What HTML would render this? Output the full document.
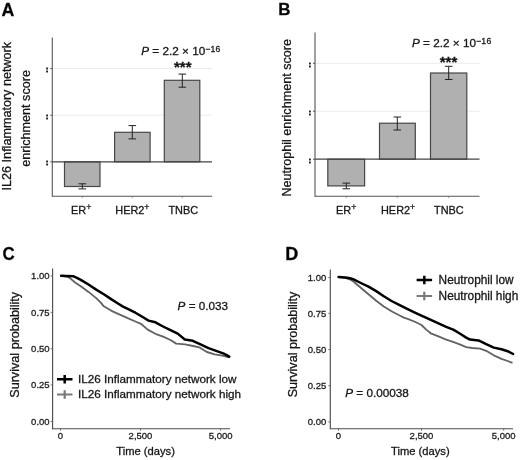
<!DOCTYPE html>
<html><head><meta charset="utf-8"><title>Figure</title>
<style>
html,body{margin:0;padding:0;background:#fff}
svg{display:block}
text{font-family:"Liberation Sans",Arial,Helvetica,sans-serif;stroke:#222;stroke-width:0.3px}
</style></head><body>
<svg width="520" height="460" viewBox="0 0 520 460">
<rect width="520" height="460" fill="#fff"/>
<!-- panel letters -->
<g font-weight="bold" font-size="17.8" fill="#000">
<text x="1.6" y="15.9">A</text>
<text x="278.2" y="15.3" font-size="16.9">B</text>
<text x="2.4" y="259.8" font-size="18" textLength="12.2" lengthAdjust="spacingAndGlyphs">C</text>
<text x="285.2" y="259.8" font-size="18">D</text>
</g>
<!-- panel A -->
<line x1="52.3" x2="212" y1="68.6" y2="68.6" stroke="#e6e6e6" stroke-width="0.8"/>
<line x1="52.3" x2="212" y1="115.2" y2="115.2" stroke="#e6e6e6" stroke-width="0.8"/>
<rect x="64.5" y="161.8" width="35.5" height="24.69999999999999" fill="#b0b0b0" stroke="#474747" stroke-width="1.2"/>
<path d="M82.3,183.8V188.9M78.5,183.8H86.1M78.5,188.9H86.1" stroke="#222" stroke-width="1" fill="none"/>
<line x1="82.3" x2="82.3" y1="196.3" y2="197.8" stroke="#555" stroke-width="0.7"/>
<rect x="114.6" y="132.3" width="35.5" height="29.5" fill="#b0b0b0" stroke="#474747" stroke-width="1.2"/>
<path d="M132.3,125.6V138.9M128.5,125.6H136.10000000000002M128.5,138.9H136.10000000000002" stroke="#222" stroke-width="1" fill="none"/>
<line x1="132.3" x2="132.3" y1="196.3" y2="197.8" stroke="#555" stroke-width="0.7"/>
<rect x="164.3" y="80.3" width="35.5" height="81.50000000000001" fill="#b0b0b0" stroke="#474747" stroke-width="1.2"/>
<path d="M182.3,74.1V87.2M178.5,74.1H186.10000000000002M178.5,87.2H186.10000000000002" stroke="#222" stroke-width="1" fill="none"/>
<line x1="182.3" x2="182.3" y1="196.3" y2="197.8" stroke="#555" stroke-width="0.7"/>
<line x1="52.3" x2="212" y1="161.8" y2="161.8" stroke="#444" stroke-width="1.25"/>
<line x1="52.3" x2="52.3" y1="37.5" y2="196.8" stroke="#555" stroke-width="1.1"/>
<line x1="52.3" x2="212" y1="196.3" y2="196.3" stroke="#555" stroke-width="1.1"/>
<text x="47.099999999999994" y="72.1" font-size="6.6" text-anchor="middle" fill="#222" style="stroke:#222;stroke-width:0.8px" font-weight="bold">:</text>
<line x1="50.3" x2="52.3" y1="68.6" y2="68.6" stroke="#444" stroke-width="0.9"/>
<text x="47.099999999999994" y="118.7" font-size="6.6" text-anchor="middle" fill="#222" style="stroke:#222;stroke-width:0.8px" font-weight="bold">:</text>
<line x1="50.3" x2="52.3" y1="115.2" y2="115.2" stroke="#444" stroke-width="0.9"/>
<text x="47.099999999999994" y="165.3" font-size="6.6" text-anchor="middle" fill="#222" style="stroke:#222;stroke-width:0.8px" font-weight="bold">:</text>
<line x1="50.3" x2="52.3" y1="161.8" y2="161.8" stroke="#444" stroke-width="0.9"/>
<g font-size="12.6" fill="#111" text-anchor="middle">
<text transform="translate(11,116.2) rotate(-90)">IL26 Inflammatory network</text>
<text transform="translate(30.2,118.4) rotate(-90)">enrichment score</text>
</g>
<text x="141.2" y="54.8" font-size="11.75" fill="#111"><tspan font-style="italic">P</tspan> = 2.2 × 10<tspan font-size="8.6" dy="-3.3" letter-spacing="0.3">−16</tspan></text>
<text x="182.8" y="72.4" font-size="15" font-weight="bold" text-anchor="middle" fill="#111">***</text>
<g font-size="10.9" fill="#111">
<text x="71" y="213.8">ER<tspan font-size="8.8" dy="-3.4">+</tspan></text>
<text x="115.3" y="213.8">HER2<tspan font-size="8.8" dy="-3.4">+</tspan></text>
<text x="168.4" y="213.8">TNBC</text>
</g>
<!-- panel B -->
<line x1="315" x2="479.5" y1="63.3" y2="63.3" stroke="#e6e6e6" stroke-width="0.8"/>
<line x1="315" x2="479.5" y1="111.2" y2="111.2" stroke="#e6e6e6" stroke-width="0.8"/>
<rect x="327.8" y="159.2" width="36.80000000000001" height="26.700000000000017" fill="#b0b0b0" stroke="#474747" stroke-width="1.2"/>
<path d="M346.3,183.1V188.8M342.5,183.1H350.1M342.5,188.8H350.1" stroke="#222" stroke-width="1" fill="none"/>
<line x1="346.3" x2="346.3" y1="196.3" y2="197.8" stroke="#555" stroke-width="0.7"/>
<rect x="379.5" y="123.2" width="35.80000000000001" height="35.999999999999986" fill="#b0b0b0" stroke="#474747" stroke-width="1.2"/>
<path d="M397.3,117V130M393.5,117H401.1M393.5,130H401.1" stroke="#222" stroke-width="1" fill="none"/>
<line x1="397.3" x2="397.3" y1="196.3" y2="197.8" stroke="#555" stroke-width="0.7"/>
<rect x="430.5" y="73" width="36.30000000000001" height="86.19999999999999" fill="#b0b0b0" stroke="#474747" stroke-width="1.2"/>
<path d="M448.7,66.3V79.5M444.9,66.3H452.5M444.9,79.5H452.5" stroke="#222" stroke-width="1" fill="none"/>
<line x1="448.7" x2="448.7" y1="196.3" y2="197.8" stroke="#555" stroke-width="0.7"/>
<line x1="315" x2="479.5" y1="159.2" y2="159.2" stroke="#444" stroke-width="1.25"/>
<line x1="315" x2="315" y1="32.5" y2="196.8" stroke="#555" stroke-width="1.1"/>
<line x1="315" x2="479.5" y1="196.3" y2="196.3" stroke="#555" stroke-width="1.1"/>
<text x="309.8" y="66.8" font-size="6.6" text-anchor="middle" fill="#222" style="stroke:#222;stroke-width:0.8px" font-weight="bold">:</text>
<line x1="313" x2="315" y1="63.3" y2="63.3" stroke="#444" stroke-width="0.9"/>
<text x="309.8" y="114.7" font-size="6.6" text-anchor="middle" fill="#222" style="stroke:#222;stroke-width:0.8px" font-weight="bold">:</text>
<line x1="313" x2="315" y1="111.2" y2="111.2" stroke="#444" stroke-width="0.9"/>
<text x="309.8" y="162.7" font-size="6.6" text-anchor="middle" fill="#222" style="stroke:#222;stroke-width:0.8px" font-weight="bold">:</text>
<line x1="313" x2="315" y1="159.2" y2="159.2" stroke="#444" stroke-width="0.9"/>
<text transform="translate(290.9,117.8) rotate(-90)" font-size="12.6" fill="#111" text-anchor="middle">Neutrophil enrichment score</text>
<text x="412" y="47.2" font-size="11.75" fill="#111"><tspan font-style="italic">P</tspan> = 2.2 × 10<tspan font-size="8.6" dy="-3.3" letter-spacing="0.3">−16</tspan></text>
<text x="448.5" y="66.7" font-size="15" font-weight="bold" text-anchor="middle" fill="#111">***</text>
<g font-size="10.9" fill="#111">
<text x="336" y="213.6">ER<tspan font-size="8.8" dy="-3.4">+</tspan></text>
<text x="381" y="213.6">HER2<tspan font-size="8.8" dy="-3.4">+</tspan></text>
<text x="434" y="213.6">TNBC</text>
</g>
<!-- panel C -->
<polyline points="61.10,275.80 66.90,276.50 70.00,278.10 75.40,282.70 80.80,286.20 88.50,291.90 96.20,298.10 100.80,302.70 103.80,306.30 111.50,310.80 119.20,314.40 123.80,316.40 127.70,318.20 135.40,321.50 141.50,324.20 147.70,329.60 155.40,333.80 163.10,336.60 170.50,340.00 176.20,343.60 185.00,344.40 193.10,346.00 199.20,347.30 206.90,352.00 214.60,354.30 222.30,355.70 229.00,357.30" fill="none" stroke="#636363" stroke-width="1.85" stroke-linejoin="round"/>
<polyline points="61.10,275.80 66.00,275.90 73.10,276.20 76.90,277.80 80.80,279.90 88.50,284.50 96.20,289.60 103.80,294.20 111.50,299.40 119.20,304.20 123.00,306.60 127.70,308.80 135.40,312.70 143.10,317.30 148.50,320.60 155.40,322.30 163.10,326.50 170.50,330.10 177.70,333.60 184.80,339.50 192.80,340.80 200.50,344.30 208.50,348.10 216.20,350.90 223.80,353.60 229.30,356.60" fill="none" stroke="#000" stroke-width="2.5" stroke-linejoin="round" stroke-linecap="round"/>
<line x1="52.6" x2="52.6" y1="268.5" y2="429.2" stroke="#4d4d4d" stroke-width="1.15"/>
<line x1="52.6" x2="230" y1="428.7" y2="428.7" stroke="#4d4d4d" stroke-width="1.15"/>
<line x1="50.6" x2="52.6" y1="275.9" y2="275.9" stroke="#555" stroke-width="0.8"/>
<text x="49.6" y="279.29999999999995" font-size="9.5" text-anchor="end" fill="#222">1.00</text>
<line x1="50.6" x2="52.6" y1="312.4" y2="312.4" stroke="#555" stroke-width="0.8"/>
<text x="49.6" y="315.79999999999995" font-size="9.5" text-anchor="end" fill="#222">0.75</text>
<line x1="50.6" x2="52.6" y1="348.7" y2="348.7" stroke="#555" stroke-width="0.8"/>
<text x="49.6" y="352.09999999999997" font-size="9.5" text-anchor="end" fill="#222">0.50</text>
<line x1="50.6" x2="52.6" y1="385" y2="385" stroke="#555" stroke-width="0.8"/>
<text x="49.6" y="388.4" font-size="9.5" text-anchor="end" fill="#222">0.25</text>
<line x1="50.6" x2="52.6" y1="421.4" y2="421.4" stroke="#555" stroke-width="0.8"/>
<text x="49.6" y="424.79999999999995" font-size="9.5" text-anchor="end" fill="#222">0.00</text>
<line x1="60.5" x2="60.5" y1="428.7" y2="430.7" stroke="#555" stroke-width="0.8"/>
<text x="60.5" y="439.09999999999997" font-size="9.5" text-anchor="middle" fill="#222">0</text>
<line x1="140.5" x2="140.5" y1="428.7" y2="430.7" stroke="#555" stroke-width="0.8"/>
<text x="140.5" y="439.09999999999997" font-size="9.5" text-anchor="middle" fill="#222">2,500</text>
<line x1="220.6" x2="220.6" y1="428.7" y2="430.7" stroke="#555" stroke-width="0.8"/>
<text x="220.6" y="439.09999999999997" font-size="9.5" text-anchor="middle" fill="#222">5,000</text>
<text transform="translate(18.9,344.8) rotate(-90)" font-size="12.63" fill="#111" text-anchor="middle">Survival probability</text>
<text x="116.3" y="455.1" font-size="11.2" fill="#111">Time (days)</text>
<text x="177.6" y="310" font-size="11.7" fill="#111"><tspan font-style="italic">P</tspan> = 0.033</text>
<path d="M57,379.3H72.5M64.7,375.1V383.5" stroke="#000" stroke-width="2.5" fill="none"/><text x="78" y="383.2" font-size="11.7" fill="#111">IL26 Inflammatory network low</text>
<path d="M57,394.5H72.5M64.7,390.3V398.7" stroke="#7a7a7a" stroke-width="2.2" fill="none"/><text x="78" y="398.4" font-size="11.7" fill="#111">IL26 Inflammatory network high</text>
<!-- panel D -->
<polyline points="338.50,277.00 345.00,277.80 349.00,279.00 353.10,281.20 360.80,287.80 368.50,294.20 376.20,300.70 383.80,306.50 391.50,311.30 399.20,315.30 403.80,317.60 407.70,318.90 415.40,322.00 421.50,325.00 426.20,329.60 430.80,333.30 438.50,336.40 446.20,339.60 453.80,342.20 461.50,345.20 466.20,347.20 472.30,348.00 480.00,348.60 486.20,350.80 493.80,355.30 501.50,358.80 507.70,361.00 512.50,362.90" fill="none" stroke="#636363" stroke-width="1.85" stroke-linejoin="round"/>
<polyline points="338.50,277.00 345.40,277.50 350.00,278.30 353.10,279.20 360.80,283.00 368.50,286.70 376.20,291.10 383.80,296.30 391.50,301.00 399.20,304.80 407.70,309.10 415.40,312.80 423.10,316.30 430.80,319.90 438.50,323.40 446.20,326.80 453.80,329.90 460.50,334.00 466.20,337.60 470.00,339.60 478.50,340.40 486.20,344.20 493.80,347.60 501.50,349.30 507.70,351.20 513.10,354.00" fill="none" stroke="#000" stroke-width="2.5" stroke-linejoin="round" stroke-linecap="round"/>
<line x1="330.3" x2="330.3" y1="269.5" y2="429.2" stroke="#4d4d4d" stroke-width="1.15"/>
<line x1="330.3" x2="513" y1="428.7" y2="428.7" stroke="#4d4d4d" stroke-width="1.15"/>
<line x1="328.3" x2="330.3" y1="277.5" y2="277.5" stroke="#555" stroke-width="0.8"/>
<text x="326.3" y="280.9" font-size="9.5" text-anchor="end" fill="#222">1.00</text>
<line x1="328.3" x2="330.3" y1="313.3" y2="313.3" stroke="#555" stroke-width="0.8"/>
<text x="326.3" y="316.7" font-size="9.5" text-anchor="end" fill="#222">0.75</text>
<line x1="328.3" x2="330.3" y1="349.5" y2="349.5" stroke="#555" stroke-width="0.8"/>
<text x="326.3" y="352.9" font-size="9.5" text-anchor="end" fill="#222">0.50</text>
<line x1="328.3" x2="330.3" y1="385.7" y2="385.7" stroke="#555" stroke-width="0.8"/>
<text x="326.3" y="389.09999999999997" font-size="9.5" text-anchor="end" fill="#222">0.25</text>
<line x1="328.3" x2="330.3" y1="422" y2="422" stroke="#555" stroke-width="0.8"/>
<text x="326.3" y="425.4" font-size="9.5" text-anchor="end" fill="#222">0.00</text>
<line x1="338.5" x2="338.5" y1="428.7" y2="430.7" stroke="#555" stroke-width="0.8"/>
<text x="338.5" y="439.09999999999997" font-size="9.5" text-anchor="middle" fill="#222">0</text>
<line x1="421.5" x2="421.5" y1="428.7" y2="430.7" stroke="#555" stroke-width="0.8"/>
<text x="421.5" y="439.09999999999997" font-size="9.5" text-anchor="middle" fill="#222">2,500</text>
<line x1="503.7" x2="503.7" y1="428.7" y2="430.7" stroke="#555" stroke-width="0.8"/>
<text x="503.7" y="439.09999999999997" font-size="9.5" text-anchor="middle" fill="#222">5,000</text>
<text transform="translate(297,344.5) rotate(-90)" font-size="12.6" fill="#111" text-anchor="middle">Survival probability</text>
<text x="391" y="455.1" font-size="11.2" fill="#111">Time (days)</text>
<text x="345.2" y="396.6" font-size="11.75" fill="#111"><tspan font-style="italic">P</tspan> = 0.00038</text>
<path d="M416.6,280H432.1M424.3,275.8V284.2" stroke="#000" stroke-width="2.5" fill="none"/><text x="438.6" y="283.9" font-size="11.85" fill="#111">Neutrophil low</text>
<path d="M416.6,296H432.1M424.3,291.8V300.2" stroke="#7a7a7a" stroke-width="2.2" fill="none"/><text x="438.6" y="299.9" font-size="11.85" fill="#111">Neutrophil high</text>
</svg>
</body></html>
